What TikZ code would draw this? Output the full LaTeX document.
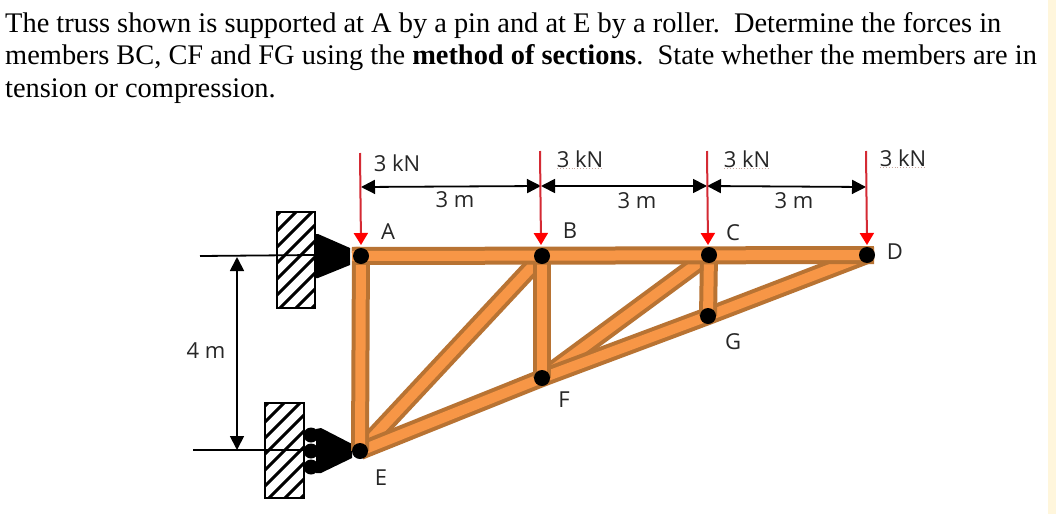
\documentclass[tikz,border=0pt]{standalone}
\usepackage{fontspec}
\setmainfont{Liberation Serif}
\newfontfamily\lblfont{Open Sans}
\usetikzlibrary{arrows.meta}
\definecolor{trussfill}{HTML}{F79646}
\definecolor{trussedge}{HTML}{B87333}
\definecolor{loadred}{HTML}{D42A34}
\definecolor{sidebar}{HTML}{FFF6DC}
\definecolor{spell}{HTML}{C9A8A0}
\tikzset{
  x=1pt,y=-1pt,
  member/.style={line width=18pt,draw=trussedge},
  memberin/.style={line width=10pt,draw=trussfill},
  jointdot/.style={circle,fill=black,inner sep=0pt,minimum size=16pt},
  lbl/.style={font=\lblfont\fontsize{22pt}{26pt}\selectfont,text=black!85,inner sep=0pt},
  para/.style={font=\fontsize{28.4pt}{33pt}\selectfont,anchor=base west,inner sep=0pt},
  dim/.style={line width=1.8pt,{Triangle[length=14pt,width=14pt]}-{Triangle[length=14pt,width=14pt]}},
  load/.style={line width=2pt,draw=loadred,-{Triangle[length=12pt,width=14pt,color=red]}},
  leader/.style={line width=1.8pt},
  wallbox/.style={draw=black,line width=2.2pt},
  hatchline/.style={line width=3pt},
  spellmark/.style={line width=0.9pt,draw=spell,dotted},
}
\begin{document}
\begin{tikzpicture}
\useasboundingbox (0,0) rectangle (1056,514);
\fill[white] (0,0) rectangle (1056,514);
\fill[sidebar] (1048,0) rectangle (1056,514);
% text
\node[para] (t1) at (5,32) {The truss shown is supported at A by a pin and at E by a roller.\ \ Determine the forces in};
\node[para] (t2) at (5,64) {members BC, CF and FG using the \textbf{method of sections}.\ \ State whether the members are in};
\node[para] (t3) at (5,97) {tension or compression.};
% coordinates
\coordinate (A) at (361,256);
\coordinate (B) at (542,256);
\coordinate (C) at (709,255);
\coordinate (D) at (867,255);
\coordinate (E) at (360,451);
\coordinate (F) at (542,378);
\coordinate (G) at (708,316);
\coordinate (Aw) at (352,256);
\coordinate (De) at (874,255);
\coordinate (An) at (361,247);
% walls
\begin{scope}
  \clip (277,212) rectangle (315,308);
  \foreach \k in {0,...,10} \draw[hatchline] (270,{222+\k*16}) -- (320,{172+\k*16});
\end{scope}
\draw[wallbox] (277,212) rectangle (315,308);
\begin{scope}
  \clip (265,403) rectangle (304,498);
  \foreach \k in {0,...,10} \draw[hatchline] (258,{413+\k*16}) -- (310,{361+\k*16});
\end{scope}
\draw[wallbox] (265,403) rectangle (304,498);
\coordinate (la1) at (200,256); \coordinate (la2) at (314,255);
\coordinate (le1) at (193,450); \coordinate (le2) at (303,450);
\draw[leader] (la1) -- (la2);
\draw[leader] (le1) -- (le2);
% supports
\fill (315,234) -- (318,234) -- (350,248) -- (350,265) -- (318,278) -- (315,278) -- cycle;
\foreach \yy in {435,451,467} \fill (311,\yy) circle (7.5pt);
\fill (316,429) -- (321,428) -- (352,444) -- (352,458) -- (321,473) -- (316,473) -- cycle;
% truss
\foreach \p/\q in {E/B,F/C,E/F,F/G,G/D,An/E,B/F,C/G,Aw/De}{
  \draw[member] (\p) -- (\q);
  \draw[memberin] (\p) -- (\q);
}
\foreach \n in {A,B,C,D,E,F,G}{\node[jointdot] (j\n) at (\n) {};}
% dims
\coordinate (la) at (360,153); \coordinate (lb) at (540,151);
\coordinate (lc) at (707,151); \coordinate (ld) at (866,151);
\coordinate (ha) at (361,187); \coordinate (hb) at (541,186);
\coordinate (hc) at (707,186); \coordinate (hd) at (866,187);
\draw[dim] (ha) -- (hb);
\draw[dim] (hb) -- (hc);
\draw[dim] (hc) -- (hd);
\coordinate (va) at (237,257); \coordinate (ve) at (237,450);
\draw[dim] (va) -- (ve);
% loads
\coordinate (ta) at (361,245); \coordinate (tb) at (541,245);
\coordinate (tc) at (708,245); \coordinate (td) at (867,245);
\draw[load] (la) -- (ta);
\draw[load] (lb) -- (tb);
\draw[load] (lc) -- (tc);
\draw[load] (ld) -- (td);
% labels
\node[lbl] (k1) at (397,163) {3 kN};
\node[lbl] (k2) at (580,159) {3 kN};
\node[lbl] (k3) at (747,159) {3 kN};
\node[lbl] (k4) at (903,158) {3 kN};
\coordinate (s2a) at (557,168); \coordinate (s2b) at (603,168);
\coordinate (s3a) at (724,168); \coordinate (s3b) at (770,168);
\coordinate (s4a) at (880,167); \coordinate (s4b) at (926,167);
\draw[spellmark] (s2a) -- (s2b);
\draw[spellmark] (s3a) -- (s3b);
\draw[spellmark] (s4a) -- (s4b);
\node[lbl] (m1) at (455,200) {3 m};
\node[lbl] (m2) at (637,201) {3 m};
\node[lbl] (m3) at (794,201) {3 m};
\node[lbl] (m4) at (206,351) {4 m};
\node[lbl] (lA) at (388,232) {A};
\node[lbl] (lB) at (570,231) {B};
\node[lbl] (lC) at (733,233) {C};
\node[lbl] (lD) at (895,252) {D};
\node[lbl] (lE) at (381,478) {E};
\node[lbl] (lF) at (564,400) {F};
\node[lbl] (lG) at (733,342) {G};
\end{tikzpicture}
\end{document}
